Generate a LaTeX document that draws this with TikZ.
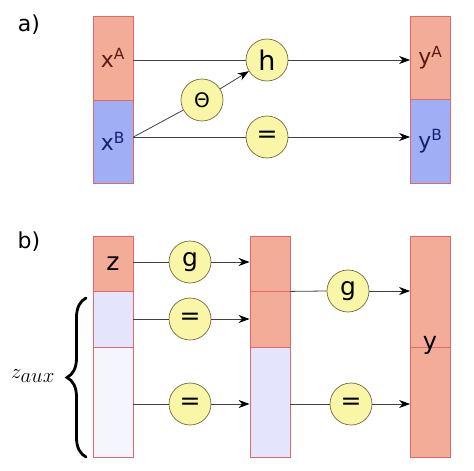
\documentclass[tikz,border=0pt]{standalone}
\usepackage{fontspec}
\setmainfont{DejaVu Sans}
\usetikzlibrary{arrows.meta,decorations.pathreplacing,calc}
\definecolor{salmon}{HTML}{F2AC98}
\definecolor{bluecell}{HTML}{A0AEF5}
\definecolor{lavcell}{HTML}{E4E4FC}
\definecolor{palecell}{HTML}{F4F5FD}
\definecolor{cellborder}{HTML}{E06868}
\definecolor{opfill}{HTML}{FAF6A8}
\definecolor{opborder}{HTML}{6E6A3A}
\definecolor{redtext}{HTML}{5A1A12}
\definecolor{bluetext}{HTML}{14206E}
\definecolor{linecol}{HTML}{404040}
\begin{document}
\begin{tikzpicture}[x=1pt,y=-1pt,
  cell/.style={draw=cellborder, line width=0.8pt, minimum width=40pt, inner sep=0pt,
    font=\fontsize{22}{24}\selectfont},
  op/.style={circle, draw=opborder, fill=opfill, minimum size=42pt, inner sep=0pt,
    line width=0.7pt, font=\fontsize{25}{26}\selectfont},
  conn/.style={draw=linecol, line width=0.8pt},
  arr/.style={conn, -{Stealth[length=11pt,width=8pt,inset=3.5pt,color=black]}},
  paneltag/.style={font=\fontsize{22}{24}\selectfont}
]
\useasboundingbox (0,0) rectangle (474,471);
% ---------- panel a
\node[paneltag] (ta) at (29,25) {a)};
\node[cell, fill=salmon, minimum height=84pt, text=redtext] (xA) at (113,58) {x\textsuperscript{A}};
\node[cell, fill=bluecell, minimum height=83pt, text=bluetext] (xB) at (113,141.5) {x\textsuperscript{B}};
\node[cell, fill=salmon, minimum height=83pt, text=redtext] (yA) at (430.5,57.5) {y\textsuperscript{A}};
\node[cell, fill=bluecell, minimum height=84pt, text=bluetext] (yB) at (430.5,141) {y\textsuperscript{B}};
\node[op, font=\fontsize{27}{28}\selectfont] (h) at (267,60) {h};
\node[op] (eqA) at (267,137) {=};
\node[op, font=\fontsize{20}{20}\selectfont] (th) at (202,100) {Θ};
\coordinate (pB) at (xB.east |- eqA);
\draw[conn] (xA.east |- h) -- (h.west);
\draw[arr] (h.east) -- (yA.west |- h);
\draw[conn] (pB) -- (eqA.west);
\draw[arr] (eqA.east) -- (yB.west |- eqA);
\draw[conn] (pB) -- (th);
\draw[arr] (th) -- (h);
% ---------- panel b
\node[paneltag] (tb) at (29,242) {b)};
\node[cell, fill=salmon, minimum height=55pt, font=\fontsize{25}{26}\selectfont] (z) at (113,263.5) {z};
\node[cell, fill=lavcell, minimum height=56pt] (l2) at (113,319) {};
\node[cell, fill=palecell, minimum height=110pt] (l3) at (113,402) {};
\node[cell, fill=salmon, minimum height=55pt] (m1) at (270,263.5) {};
\node[cell, fill=salmon, minimum height=56pt] (m2) at (270,319) {};
\node[cell, fill=lavcell, minimum height=110pt] (m3) at (270,402) {};
\node[cell, fill=salmon, minimum height=111pt] (r1) at (430.5,291.5) {};
\node[cell, fill=salmon, minimum height=110pt] (r2) at (430.5,402) {};
\node[font=\fontsize{24}{24}\selectfont, inner sep=0pt] (ylab) at (430,345) {y};
\node[op] (g1) at (190,262) {g};
\node[op] (e1) at (190,319) {=};
\node[op] (e2) at (190,404) {=};
\node[op] (g2) at (348,291) {g};
\node[op] (e3) at (351,404) {=};
\draw[conn] (z.east |- g1) -- (g1.west);
\draw[arr] (g1.east) -- (m1.west |- g1);
\draw[conn] (l2.east |- e1) -- (e1.west);
\draw[arr] (e1.east) -- (m2.west |- e1);
\draw[conn] (l3.east |- e2) -- (e2.west);
\draw[arr] (e2.east) -- (m3.west |- e2);
\draw[conn] (m1.south east) -- (g2.west);
\draw[arr] (g2.east) -- (r1.west |- g2);
\draw[conn] (m3.east |- e3) -- (e3.west);
\draw[arr] (e3.east) -- (r2.west |- e3);
% brace
\coordinate (bb) at (86,457);
\coordinate (bt) at (86,298);
\draw[line width=2.8pt, line cap=round, decorate, decoration={brace, amplitude=19pt}] (bb) -- (bt);
\node[inner sep=0pt, font=\fontsize{20}{20}\selectfont] (zaux) at (33,376) {$z_{\textstyle aux}$};
\end{tikzpicture}
\end{document}
